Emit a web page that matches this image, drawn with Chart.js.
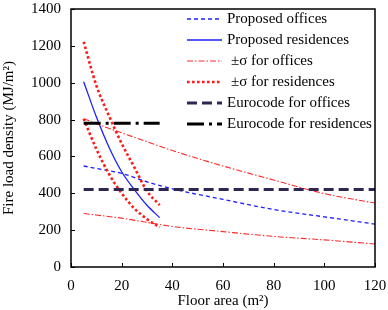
<!DOCTYPE html>
<html><head><meta charset="utf-8">
<script src="https://cdn.jsdelivr.net/npm/chart.js@4"></script>
<style>html,body{margin:0;padding:0;background:#fff}#wrap{width:388px;height:310px}</style>
</head><body><div id="wrap"><canvas id="c" width="388" height="310"></canvas></div>
<script>
// Floor area values (m²)
const resX = [5, 10, 15, 20, 25, 30, 35];
const offX = [5, 10, 20, 30, 40, 60, 80, 100, 120];
// Fire load density (MJ/m²)
const proposedResidences = [1005, 815, 650, 517, 420, 335, 268];
const resUpper = [1222, 985, 820, 670, 541, 412, 336];
const resLower = [805, 640, 505, 400, 318, 260, 215];
const proposedOffices = [548, 535, 508, 462, 424, 367, 312, 272, 233];
const offUpper = [805, 778, 728, 680, 632, 548, 472, 398, 347];
const offLower = [290, 282, 265, 242, 220, 192, 166, 147, 125];
const eurocodeOfficesX = [5, 120];
const eurocodeOffices = [420, 420];
const eurocodeResidencesX = [5, 35];
const eurocodeResidences = [780, 780];
const xTicks = [0, 20, 40, 60, 80, 100, 120];
const yTicks = [0, 200, 400, 600, 800, 1000, 1200, 1400];
const legendLabels = ['Proposed offices', 'Proposed residences', '\u00B1\u03C3 for offices', '\u00B1\u03C3 for residences', 'Eurocode for offices', 'Eurocode for residences'];

const pts = (xs, ys) => xs.map((x, i) => ({x: x, y: ys[i]}));
const FONT = '"Liberation Serif", "Times New Roman", serif';

const styles = {
  po: {color: '#1f1fff', width: 1.3, dash: [4, 3]},
  pr: {color: '#1f1fff', width: 1.3, dash: []},
  so: {color: '#ff2a2a', width: 1.1, dash: [6, 2, 1.5, 2]},
  sr: {color: '#ff1a1a', width: 2.6, dash: [2.6, 2.4]},
  eo: {color: '#2e2754', width: 3, dash: [10, 5]},
  er: {color: '#000000', width: 3, dash: [17, 5, 3, 5]}
};
function ds(label, data, st, leg) {
  return {label: label, data: data, borderColor: st.color, borderWidth: st.width, borderDash: st.dash,
    pointRadius: 0, fill: false, cubicInterpolationMode: 'monotone', legendIdx: leg};
}
const datasets = [
  ds(legendLabels[4], pts(eurocodeOfficesX, eurocodeOffices), styles.eo, 4),
  ds(legendLabels[5], pts(eurocodeResidencesX, eurocodeResidences), styles.er, 5),
  ds(legendLabels[2], pts(offX, offUpper), styles.so, 2),
  ds(legendLabels[2], pts(offX, offLower), styles.so, -1),
  ds(legendLabels[3], pts(resX, resUpper), styles.sr, 3),
  ds(legendLabels[3], pts(resX, resLower), styles.sr, -1),
  ds(legendLabels[0], pts(offX, proposedOffices), styles.po, 0),
  ds(legendLabels[1], pts(resX, proposedResidences), styles.pr, 1)
];

const framePlugin = {
  id: 'frame',
  afterDatasetsDraw(chart) {
    const ctx = chart.ctx, a = chart.chartArea;
    const xs = chart.scales.x, ys = chart.scales.y;
    ctx.save();
    ctx.setLineDash([]);
    ctx.strokeStyle = '#000';
    ctx.lineWidth = 1;
    ctx.beginPath();
    xTicks.forEach(v => { const p = Math.round(xs.getPixelForValue(v)) + 0.5; ctx.moveTo(p, a.bottom); ctx.lineTo(p, a.bottom - 4); });
    yTicks.forEach(v => { const p = Math.round(ys.getPixelForValue(v)) + 0.5; ctx.moveTo(a.left, p); ctx.lineTo(a.left + 4, p); });
    ctx.stroke();
    ctx.lineWidth = 1.5;
    ctx.strokeRect(a.left, a.top, a.right - a.left, a.bottom - a.top);
    // legend
    const x0 = a.right - 188, x1 = a.right - 153;
    ctx.font = '15px ' + FONT;
    ctx.textBaseline = 'middle';
    ctx.fillStyle = '#000';
    [0, 1, 2, 3, 4, 5].forEach(i => {
      const d = chart.data.datasets.find(s => s.legendIdx === i);
      const y = a.top + 10 + i * 21;
      ctx.strokeStyle = d.borderColor;
      ctx.lineWidth = d.borderWidth;
      ctx.setLineDash(d.borderDash);
      ctx.beginPath(); ctx.moveTo(x0, y); ctx.lineTo(x1, y); ctx.stroke();
      ctx.setLineDash([]);
      const tx = (i === 2 || i === 3) ? x1 + 9 : x1 + 5;
      ctx.fillText(d.label, tx, y);
    });
    ctx.restore();
  }
};

new Chart(document.getElementById('c'), {
  type: 'line',
  data: {datasets: datasets},
  options: {
    responsive: false, animation: false, devicePixelRatio: 1,
    layout: {padding: {top: 9, right: 13, left: 0, bottom: 0}},
    plugins: {legend: {display: false}, tooltip: {enabled: false}},
    scales: {
      x: {type: 'linear', min: 0, max: 120,
        afterBuildTicks: s => { s.ticks = xTicks.map(v => ({value: v})); },
        afterFit: s => { s.height = 43; s.paddingLeft = 0; s.paddingRight = 0; },
        grid: {display: false, drawTicks: false}, border: {display: false},
        ticks: {color: '#000', font: {family: FONT, size: 15}, padding: 10, maxRotation: 0, callback: v => String(v)},
        title: {display: true, text: 'Floor area (m\u00B2)', color: '#000', font: {family: FONT, size: 15}, padding: {top: 0, bottom: 0}}
      },
      y: {type: 'linear', min: 0, max: 1400,
        afterBuildTicks: s => { s.ticks = yTicks.map(v => ({value: v})); },
        afterFit: s => { s.width = 71; s.paddingTop = 0; s.paddingBottom = 0; },
        grid: {display: false, drawTicks: false}, border: {display: false},
        ticks: {color: '#000', font: {family: FONT, size: 15}, padding: 10, callback: v => String(v)},
        title: {display: true, text: 'Fire load density (MJ/m\u00B2)', color: '#000', font: {family: FONT, size: 15}, padding: {top: 0, bottom: 0}}
      }
    }
  },
  plugins: [framePlugin]
});
</script></body></html>
